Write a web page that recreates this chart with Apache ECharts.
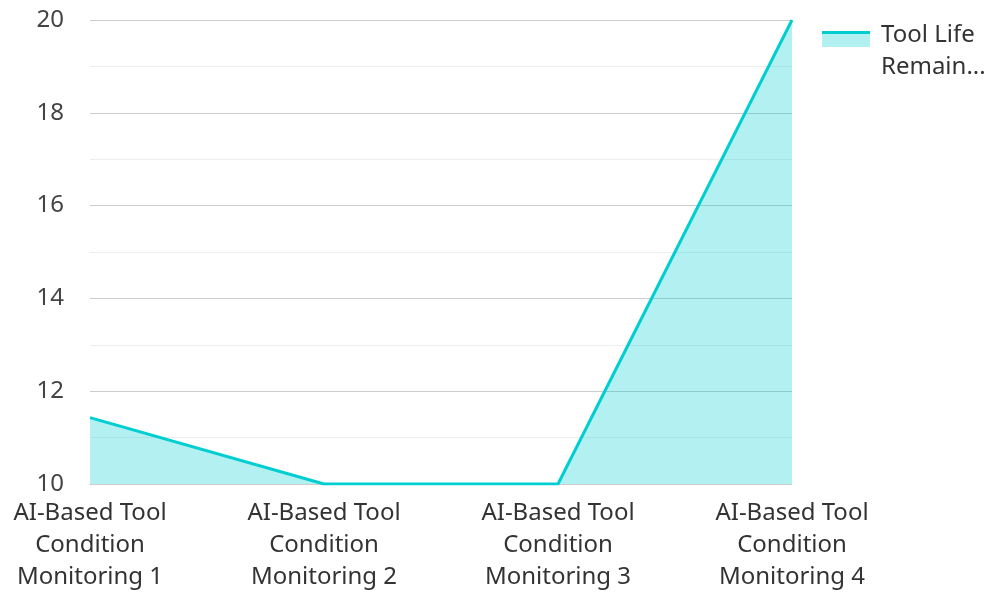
<!DOCTYPE html>
<html>
<head>
<meta charset="utf-8">
<script src="https://cdn.jsdelivr.net/npm/echarts@6/dist/echarts.min.js"></script>
<style>html,body{margin:0;padding:0;background:#fff}#c{width:984px;height:593px}</style>
</head>
<body>
<div id="c"></div>
<script>
const categories = ['AI-Based Tool Condition Monitoring 1','AI-Based Tool Condition Monitoring 2','AI-Based Tool Condition Monitoring 3','AI-Based Tool Condition Monitoring 4'];
const seriesName = 'Tool Life Remaining';
const values = [11.43, 10, 10, 20];
const yMin = 10, yMax = 20, yInterval = 2;

const lineColor = '#00CED1';
const fillColor = 'rgba(0,206,209,0.3)';
const chart = echarts.init(document.getElementById('c'));
chart.setOption({
  animation: false,
  textStyle: { fontFamily: 'Noto Sans' },
  grid: { left: 90, right: 192, top: 20, bottom: 106 },
  legend: {
    left: 817, top: 14, orient: 'vertical',
    icon: 'rect',
    itemWidth: 48, itemHeight: 40, itemGap: 10,
    itemStyle: {
      color: new echarts.graphic.LinearGradient(0, 0, 0, 1, [
        { offset: 0, color: lineColor },
        { offset: 0.075, color: lineColor },
        { offset: 0.075, color: fillColor },
        { offset: 0.4, color: fillColor },
        { offset: 0.4, color: 'rgba(255,255,255,0)' },
        { offset: 1, color: 'rgba(255,255,255,0)' }
      ])
    },
    formatter: () => 'Tool Life\nRemain...',
    textStyle: { fontSize: 24, color: '#333', lineHeight: 32, fontFamily: 'Noto Sans', padding: [0, 0, 0, 6] }
  },
  xAxis: {
    type: 'category', data: categories, boundaryGap: false,
    axisLine: { lineStyle: { color: '#ccc' } },
    axisTick: { show: false },
    axisLabel: {
      fontSize: 24, color: '#333', lineHeight: 32, margin: 13, interval: 0,
      formatter: v => { const m = v.match(/^(AI-Based Tool) (Condition) (Monitoring \d+)$/); return m ? m[1]+'\n'+m[2]+'\n'+m[3] : v; }
    }
  },
  yAxis: {
    type: 'value', min: yMin, max: yMax, interval: yInterval,
    axisLine: { show: false }, axisTick: { show: false },
    axisLabel: { fontSize: 24, color: '#444', margin: 26 },
    splitLine: { lineStyle: { color: '#ccc' } },
    minorTick: { show: false, splitNumber: 2 },
    minorSplitLine: { show: true, lineStyle: { color: '#eee' } }
  },
  series: [{
    name: seriesName, type: 'line', data: values, symbol: 'none',
    lineStyle: { color: lineColor, width: 3 },
    itemStyle: { color: lineColor },
    areaStyle: { color: fillColor, opacity: 1 }
  }]
});
</script>
</body>
</html>
